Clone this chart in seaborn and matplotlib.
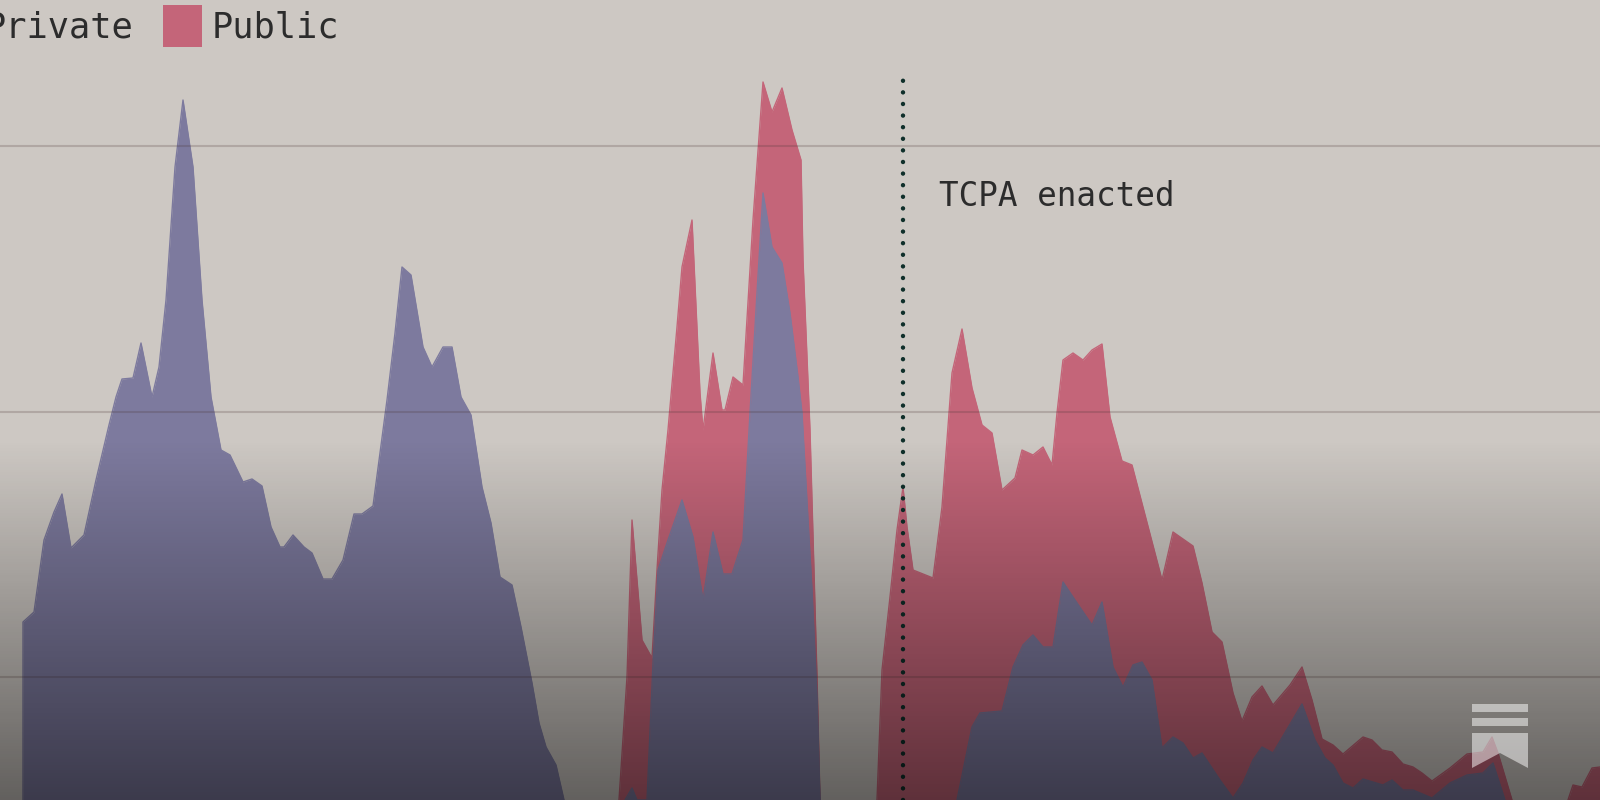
import numpy as np
import pandas as pd
import matplotlib
matplotlib.use("Agg")
import matplotlib.pyplot as plt
from matplotlib.patches import Patch, Polygon, Rectangle
import seaborn as sns

# Values (x: time position, y: height above the cropped bottom)
private_x = [23,23,34,44,54,62,71,84,96,109,116,122,133,141,152,159,166,175,183,193,202,211,221,230,243,252,262,271,280,284,293,304,312,323,332,343,354,362,373,387,395,402,411,423,432,443,452,461,471,482,491,500,512,521,532,539,546,556,564,
             625,632,637,647,653,658,668,682,693,703,713,723,732,743,750,757,763,772,782,790,798,802,812,817,820,
             957,972,980,1002,1013,1023,1033,1043,1053,1063,1073,1092,1102,1113,1123,1133,1142,1152,1162,1173,1183,1193,1202,1220,1233,1243,1253,1262,1273,1302,1315,1325,1333,1343,1353,1363,1373,1383,1392,1403,1413,1432,1450,1467,1483,1493,1505]
private_y = [0,178,188,260,288,306,252,265,320,375,403,421,422,457,403,433,500,633,700,633,500,403,350,345,318,321,314,273,253,253,265,253,247,221,221,240,286,286,294,400,467,533,525,453,433,453,453,403,385,313,277,223,215,173,117,77,53,35,0,
             0,12,0,0,137,230,260,300,263,200,268,226,226,260,387,507,607,553,537,487,423,387,210,103,0,
             0,73,87,89,133,155,165,153,153,218,203,175,198,133,113,135,138,120,52,63,57,42,47,20,2,17,40,53,47,96,60,42,35,17,12,21,18,15,20,10,10,2,17,25,27,37,0]

public_x = [619,627,632,642,652,657,662,668,677,682,692,700,703,713,722,725,733,743,753,763,772,782,792,801,803,810,817,820,
            877,882,890,897,903,907,913,933,942,952,962,972,982,992,1002,1015,1022,1033,1043,1052,1057,1063,1073,1083,1092,1102,1110,1122,1132,1162,1173,1193,1202,1212,1222,1233,1242,1252,1262,1273,1290,1302,1312,1322,1333,1343,1363,1372,1382,1392,1403,1413,1422,1432,1450,1467,1483,1492,1498,1512,
            1568,1573,1582,1592,1600]
public_y = [0,123,280,160,142,230,310,370,473,533,580,407,370,447,390,390,423,415,580,718,688,712,670,640,540,370,123,0,
            0,130,203,270,313,273,230,222,293,427,471,412,375,367,310,322,350,345,353,335,387,440,447,440,450,456,383,339,335,220,268,254,217,168,158,107,79,103,114,95,115,133,100,61,55,46,63,60,50,48,36,33,27,19,32,46,48,63,47,0,
            0,15,13,32,33]

grid_values = [654, 388.5, 123]
tcpa_x = 903
series_labels = ["Private", "Public"]
annotation = "TCPA enacted"

BG = "#CDC8C3"
PRIVATE = "#7D7A9E"
PUBLIC = "#C46579"
FONT = "DejaVu Sans Mono"

sns.set_theme(style="white", rc={"figure.facecolor": BG, "axes.facecolor": BG, "font.family": FONT})

fig = plt.figure(figsize=(16, 8), dpi=100)
ax = fig.add_axes([0, 0, 1, 1])

def draw(xs, ys, color, z):
    df = pd.DataFrame({"x": xs, "y": ys})
    df["seg"] = np.concatenate([[0], np.cumsum((df["x"].diff().to_numpy()[1:] > 30).astype(int))])
    ax.fill_between(df["x"], 0, df["y"], color=color, lw=0, zorder=z)
    sns.lineplot(data=df, x="x", y="y", units="seg", estimator=None, sort=False,
                 color=color, lw=1.0, ax=ax, zorder=z, legend=False)

draw(public_x, public_y, PUBLIC, 2)
draw(private_x, private_y, PRIVATE, 3)

for g in grid_values:
    ax.axhline(g, color="#4a3535", alpha=0.22, lw=1.5, zorder=4)

ax.plot([tcpa_x, tcpa_x], [0, 723], color="#0f2f2a", lw=3.2,
        linestyle=(0, (0.01, 2.6)), dash_capstyle="round", zorder=5)

# darkening veil towards the bottom edge
rows = 400
veil = np.zeros((rows, 1, 4))
pos = np.linspace(800, 0, rows)          # image row 0 = value 800 (top)
veil[:, 0, 3] = np.clip((360 - pos) / 360, 0, 1) * 0.52
ax.imshow(veil, extent=(0, 1600, 0, 800), aspect="auto", origin="upper", zorder=6, interpolation="bilinear")

ax.text(939, 603, annotation, fontsize=23.5, color="#2c2c2c", va="center", ha="left", zorder=7)

handles = [Patch(facecolor=PRIVATE, edgecolor="none"), Patch(facecolor=PUBLIC, edgecolor="none")]
ax.legend(handles, series_labels, ncol=2, loc="upper left", bbox_to_anchor=(-64 / 1600, 1 - 5 / 800),
          frameon=False, fontsize=25.5, handlelength=1.09, handleheight=1.45, handletextpad=0.28,
          columnspacing=0.85, borderpad=0, borderaxespad=0, labelcolor="#2c2c2c")

# bookmark logo
W, H = 1600.0, 800.0
mark = dict(facecolor="white", alpha=0.5, edgecolor="none", transform=fig.transFigure, zorder=20)
fig.add_artist(Rectangle((1472 / W, 1 - 712 / H), 56 / W, 8 / H, **mark))
fig.add_artist(Rectangle((1472 / W, 1 - 726 / H), 56 / W, 8 / H, **mark))
fig.add_artist(Polygon([(1472 / W, 1 - 733 / H), (1528 / W, 1 - 733 / H), (1528 / W, 1 - 768 / H),
                        (1500 / W, 1 - 753 / H), (1472 / W, 1 - 768 / H)], closed=True, **mark))

ax.set_xlim(0, 1600)
ax.set_ylim(0, 800)
ax.set_xlabel("")
ax.set_ylabel("")
ax.set_xticks([])
ax.set_yticks([])
sns.despine(ax=ax, left=True, bottom=True)

fig.savefig("out.png", dpi=100, facecolor=BG)
